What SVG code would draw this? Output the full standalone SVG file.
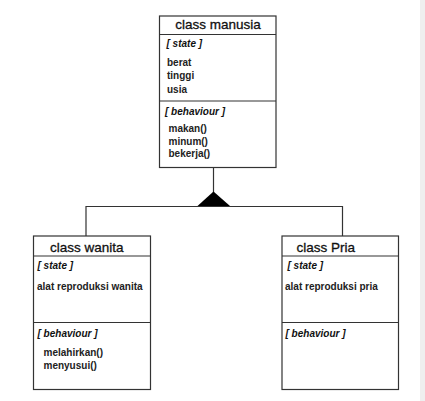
<svg xmlns="http://www.w3.org/2000/svg" width="425" height="401" viewBox="0 0 425 401">
<style>
.box{fill:#fff;stroke:#333;stroke-width:1.2}
.ln{stroke:#333;stroke-width:1.2;fill:none}
.title{font-family:"Liberation Sans",Arial,sans-serif;font-size:13.5px;fill:#111;stroke:#111;stroke-width:0.3}
.hdr{font-family:"Liberation Sans",Arial,sans-serif;font-size:10px;font-weight:bold;font-style:italic;fill:#111}
.txt{font-family:"Liberation Sans",Arial,sans-serif;font-size:10px;font-weight:bold;fill:#222}
</style>
<rect x="0" y="0" width="425" height="401" fill="#fff"/>
<rect x="420" y="0" width="5" height="401" fill="#efefef"/>
<g id="connectors">
<line class="ln" x1="213.5" y1="167" x2="213.5" y2="193"/>
<polyline class="ln" points="86,236 86,206.5 342.5,206.5 342.5,236"/>
<polygon points="213.5,191.5 197.5,206 230,206" fill="#000"/>
</g>
<g id="manusia">
<rect class="box" x="159.5" y="16" width="116.5" height="151.5"/>
<line class="ln" x1="159.5" y1="34.5" x2="276" y2="34.5"/>
<line class="ln" x1="159.5" y1="101" x2="276" y2="101"/>
<text class="title" x="218" y="29" text-anchor="middle">class manusia</text>
<text class="hdr" x="166.5" y="47">[ state ]</text>
<text class="txt" x="167" y="65.5">berat</text>
<text class="txt" x="167" y="78.5">tinggi</text>
<text class="txt" x="167" y="92.5">usia</text>
<text class="hdr" x="165" y="115">[ behaviour ]</text>
<text class="txt" x="168.5" y="132">makan()</text>
<text class="txt" x="168.5" y="144.5">minum()</text>
<text class="txt" x="168.5" y="157">bekerja()</text>
</g>
<g id="wanita">
<rect class="box" x="33.5" y="236" width="117" height="153.5"/>
<line class="ln" x1="33.5" y1="256" x2="150.5" y2="256"/>
<line class="ln" x1="33.5" y1="322.5" x2="150.5" y2="322.5"/>
<text class="title" x="50" y="251.5">class wanita</text>
<text class="hdr" x="37.5" y="269">[ state ]</text>
<text class="txt" x="37" y="290">alat reproduksi wanita</text>
<text class="hdr" x="37.5" y="336.5">[ behaviour ]</text>
<text class="txt" x="43.5" y="355.5">melahirkan()</text>
<text class="txt" x="43.5" y="369">menyusui()</text>
</g>
<g id="pria">
<rect class="box" x="282" y="236" width="116.5" height="153.5"/>
<line class="ln" x1="282" y1="256" x2="398.5" y2="256"/>
<line class="ln" x1="282" y1="322.5" x2="398.5" y2="322.5"/>
<text class="title" x="296.5" y="251.5">class Pria</text>
<text class="hdr" x="287.5" y="269">[ state ]</text>
<text class="txt" x="285" y="290">alat reproduksi pria</text>
<text class="hdr" x="285.5" y="336.5">[ behaviour ]</text>
</g>
</svg>
